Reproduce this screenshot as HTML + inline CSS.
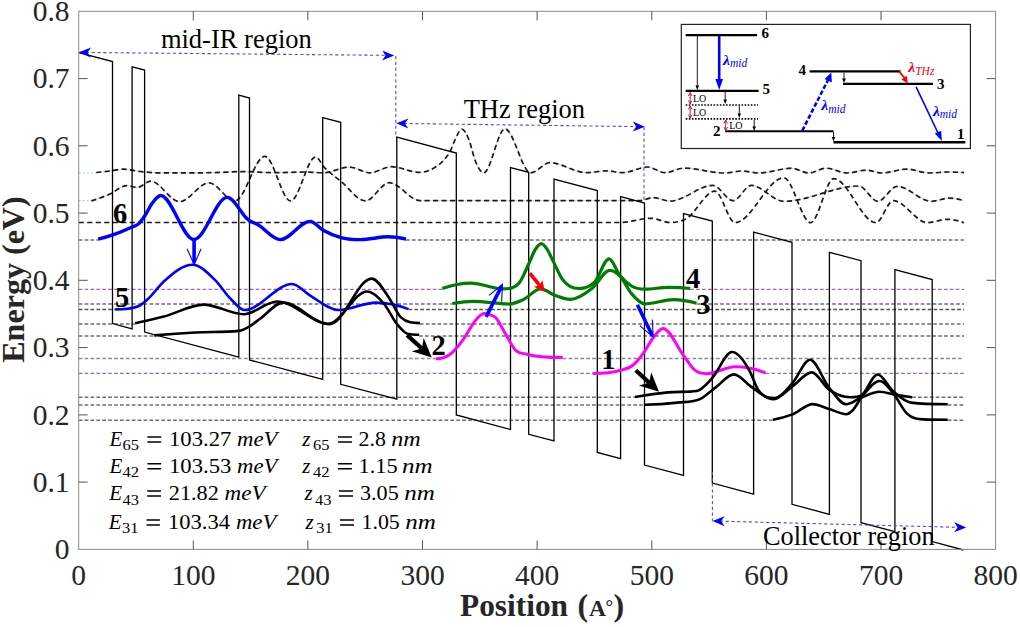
<!DOCTYPE html>
<html><head><meta charset="utf-8"><style>
html,body{margin:0;padding:0;background:#fff;width:1020px;height:627px;overflow:hidden}
svg{display:block;font-family:"Liberation Serif",serif}
</style></head><body>
<svg width="1020" height="627" viewBox="0 0 1020 627">
<rect width="1020" height="627" fill="#fff"/>
<line x1="78.7" y1="173.0" x2="96.2" y2="173.0" stroke="#a8d8f0" stroke-width="1.2" stroke-dasharray="2 2"/>
<line x1="78.7" y1="200.7" x2="91.4" y2="200.7" stroke="#f0b8c8" stroke-width="1.2" stroke-dasharray="2 2"/>
<line x1="78.7" y1="240.0" x2="98.1" y2="240.0" stroke="#6e6e6e" stroke-width="1.5" stroke-dasharray="3.7 2.2"/>
<line x1="406.0" y1="240.0" x2="964" y2="240.0" stroke="#6e6e6e" stroke-width="1.5" stroke-dasharray="3.7 2.2"/>
<line x1="78.7" y1="289.4" x2="442.2" y2="289.4" stroke="#a064c8" stroke-width="1.3" stroke-dasharray="3.7 2.2"/>
<line x1="690.2" y1="289.4" x2="964" y2="289.4" stroke="#a064c8" stroke-width="1.3" stroke-dasharray="3.7 2.2"/>
<line x1="78.7" y1="303.9" x2="452.3" y2="303.9" stroke="#6e6e6e" stroke-width="1.5" stroke-dasharray="3.7 2.2"/>
<line x1="696.5" y1="303.9" x2="964" y2="303.9" stroke="#6e6e6e" stroke-width="1.5" stroke-dasharray="3.7 2.2"/>
<line x1="78.7" y1="309.5" x2="115.2" y2="309.5" stroke="#555" stroke-width="1.5" stroke-dasharray="3.7 2.2"/>
<line x1="408.5" y1="309.5" x2="964" y2="309.5" stroke="#555" stroke-width="1.5" stroke-dasharray="3.7 2.2"/>
<line x1="78.7" y1="323.9" x2="135.1" y2="323.9" stroke="#6e6e6e" stroke-width="1.5" stroke-dasharray="3.7 2.2"/>
<line x1="419.9" y1="323.9" x2="964" y2="323.9" stroke="#6e6e6e" stroke-width="1.5" stroke-dasharray="3.7 2.2"/>
<line x1="78.7" y1="336.1" x2="154.2" y2="336.1" stroke="#6e6e6e" stroke-width="1.5" stroke-dasharray="3.7 2.2"/>
<line x1="419.1" y1="336.1" x2="964" y2="336.1" stroke="#6e6e6e" stroke-width="1.5" stroke-dasharray="3.7 2.2"/>
<line x1="78.7" y1="358.6" x2="435.8" y2="358.6" stroke="#8c8c8c" stroke-width="1.5" stroke-dasharray="3.7 2.2"/>
<line x1="562.7" y1="358.6" x2="964" y2="358.6" stroke="#8c8c8c" stroke-width="1.5" stroke-dasharray="3.7 2.2"/>
<line x1="78.7" y1="373.4" x2="592.8" y2="373.4" stroke="#a064c8" stroke-width="1.3" stroke-dasharray="3.7 2.2"/>
<line x1="765.5" y1="373.4" x2="964" y2="373.4" stroke="#a064c8" stroke-width="1.3" stroke-dasharray="3.7 2.2"/>
<line x1="78.7" y1="397.2" x2="634.9" y2="397.2" stroke="#6e6e6e" stroke-width="1.5" stroke-dasharray="3.7 2.2"/>
<line x1="912.1" y1="397.2" x2="964" y2="397.2" stroke="#6e6e6e" stroke-width="1.5" stroke-dasharray="3.7 2.2"/>
<line x1="78.7" y1="405.0" x2="644.9" y2="405.0" stroke="#6e6e6e" stroke-width="1.5" stroke-dasharray="3.7 2.2"/>
<line x1="947.7" y1="405.0" x2="964" y2="405.0" stroke="#6e6e6e" stroke-width="1.5" stroke-dasharray="3.7 2.2"/>
<line x1="78.7" y1="420.2" x2="772.9" y2="420.2" stroke="#6e6e6e" stroke-width="1.5" stroke-dasharray="3.7 2.2"/>
<line x1="947.7" y1="420.2" x2="964" y2="420.2" stroke="#6e6e6e" stroke-width="1.5" stroke-dasharray="3.7 2.2"/>
<path d="M96.2,172.5 C100.8,172.1 105.4,171.6 110.0,171.0 C114.3,170.5 118.7,169.2 123.0,169.2 C128.7,169.2 134.3,170.9 140.0,171.5 C146.8,172.2 153.5,172.9 160.3,172.9 C177.3,172.9 194.4,172.9 211.4,172.7 C221.8,172.6 232.3,171.6 242.7,171.6 C253.2,171.6 263.6,172.7 274.1,172.7 C284.6,172.7 295.0,172.0 305.5,172.0 C311.7,172.0 317.8,172.8 324.0,172.8 C332.3,172.8 340.7,167.0 349.0,167.0 C356.0,167.0 363.1,172.8 370.1,172.8 C377.1,172.8 384.1,166.7 391.1,166.7 C400.7,166.7 410.3,172.4 419.9,172.4 C424.7,172.4 429.5,170.7 434.3,167.8 C437.5,165.9 440.6,163.9 443.8,160.2 C446.0,157.6 448.3,155.1 450.5,150.6 C452.1,147.4 453.7,142.3 455.3,139.1 C457.5,134.6 459.8,129.1 462.0,129.1 C464.2,129.1 466.5,133.8 468.7,139.1 C470.9,144.4 473.2,155.6 475.4,161.1 C478.2,167.9 481.0,172.8 483.8,172.8 C490.8,172.8 497.9,128.8 504.9,128.8 C513.5,128.8 522.1,172.8 530.7,172.8 C537.1,172.8 543.4,162.7 549.8,162.7 C562.0,162.7 574.2,172.7 586.4,172.7 C593.1,172.7 599.8,170.8 606.5,170.8 C611.9,170.8 617.3,172.7 622.7,172.7 C631.0,172.7 639.3,167.0 647.6,167.0 C653.4,167.0 659.1,172.7 664.9,172.7 C671.3,172.7 677.6,168.1 684.0,168.1 C697.5,168.1 711.0,173.0 724.5,173.0 C730.2,173.0 736.0,171.0 741.7,171.0 C747.4,171.0 753.2,173.0 758.9,173.0 C769.8,173.0 780.6,168.2 791.5,168.2 C797.2,168.2 803.0,173.0 808.7,173.0 C814.6,173.0 820.4,168.2 826.3,168.2 C833.3,168.2 840.2,173.0 847.2,173.0 C853.6,173.0 860.0,170.1 866.4,170.1 C871.5,170.1 876.6,173.0 881.7,173.0 C890.0,173.0 898.3,169.1 906.6,169.1 C914.2,169.1 921.9,173.0 929.5,173.0 C935.9,173.0 942.3,172.0 948.7,172.0 C953.8,172.0 958.9,172.2 964.0,172.6" fill="none" stroke="#b8e0f4" stroke-width="1"/>
<path d="M91.4,200.9 C97.6,199.0 103.8,196.7 110.0,194.0 C115.6,191.5 121.2,185.6 126.8,185.6 C130.3,185.6 133.8,187.5 137.3,187.5 C141.8,187.5 146.2,181.2 150.7,181.2 C160.3,181.2 169.9,201.6 179.5,201.6 C189.3,201.6 199.2,182.9 209.0,182.9 C217.6,182.9 226.3,201.0 234.9,201.0 C244.9,201.0 254.8,156.3 264.8,156.3 C273.4,156.3 282.0,201.0 290.6,201.0 C298.9,201.0 307.3,157.0 315.6,157.0 C318.5,157.0 321.4,164.2 324.3,167.3 C330.0,173.4 335.7,177.1 341.4,181.8 C349.4,188.4 357.3,200.9 365.3,200.9 C373.3,200.9 381.2,182.7 389.2,182.7 C399.5,182.7 409.7,200.6 420.0,200.6 C493.3,200.6 566.7,200.6 640.0,200.6 C644.3,200.6 648.7,197.6 653.0,197.6 C658.7,197.6 664.5,201.1 670.2,201.1 C684.5,201.1 698.7,185.4 713.0,185.4 C719.7,185.4 726.4,200.7 733.1,200.7 C739.2,200.7 745.2,185.4 751.3,185.4 C762.1,185.4 773.0,201.3 783.8,201.3 C808.8,201.3 833.7,186.0 858.7,186.0 C865.1,186.0 871.5,201.3 877.9,201.3 C884.3,201.3 890.6,186.4 897.0,186.4 C908.5,186.4 920.0,201.3 931.5,201.3 C937.2,201.3 943.0,198.2 948.7,198.2 C953.8,198.2 958.9,199.0 964.0,200.7" fill="none" stroke="#f4c8d4" stroke-width="1"/>
<path d="M96.2,172.5 C100.8,172.1 105.4,171.6 110.0,171.0 C114.3,170.5 118.7,169.2 123.0,169.2 C128.7,169.2 134.3,170.9 140.0,171.5 C146.8,172.2 153.5,172.9 160.3,172.9 C177.3,172.9 194.4,172.9 211.4,172.7 C221.8,172.6 232.3,171.6 242.7,171.6 C253.2,171.6 263.6,172.7 274.1,172.7 C284.6,172.7 295.0,172.0 305.5,172.0 C311.7,172.0 317.8,172.8 324.0,172.8 C332.3,172.8 340.7,167.0 349.0,167.0 C356.0,167.0 363.1,172.8 370.1,172.8 C377.1,172.8 384.1,166.7 391.1,166.7 C400.7,166.7 410.3,172.4 419.9,172.4 C424.7,172.4 429.5,170.7 434.3,167.8 C437.5,165.9 440.6,163.9 443.8,160.2 C446.0,157.6 448.3,155.1 450.5,150.6 C452.1,147.4 453.7,142.3 455.3,139.1 C457.5,134.6 459.8,129.1 462.0,129.1 C464.2,129.1 466.5,133.8 468.7,139.1 C470.9,144.4 473.2,155.6 475.4,161.1 C478.2,167.9 481.0,172.8 483.8,172.8 C490.8,172.8 497.9,128.8 504.9,128.8 C513.5,128.8 522.1,172.8 530.7,172.8 C537.1,172.8 543.4,162.7 549.8,162.7 C562.0,162.7 574.2,172.7 586.4,172.7 C593.1,172.7 599.8,170.8 606.5,170.8 C611.9,170.8 617.3,172.7 622.7,172.7 C631.0,172.7 639.3,167.0 647.6,167.0 C653.4,167.0 659.1,172.7 664.9,172.7 C671.3,172.7 677.6,168.1 684.0,168.1 C697.5,168.1 711.0,173.0 724.5,173.0 C730.2,173.0 736.0,171.0 741.7,171.0 C747.4,171.0 753.2,173.0 758.9,173.0 C769.8,173.0 780.6,168.2 791.5,168.2 C797.2,168.2 803.0,173.0 808.7,173.0 C814.6,173.0 820.4,168.2 826.3,168.2 C833.3,168.2 840.2,173.0 847.2,173.0 C853.6,173.0 860.0,170.1 866.4,170.1 C871.5,170.1 876.6,173.0 881.7,173.0 C890.0,173.0 898.3,169.1 906.6,169.1 C914.2,169.1 921.9,173.0 929.5,173.0 C935.9,173.0 942.3,172.0 948.7,172.0 C953.8,172.0 958.9,172.2 964.0,172.6" fill="none" stroke="#1a1a1a" stroke-width="1.7" stroke-dasharray="5.2 3.3"/>
<path d="M91.4,200.9 C97.6,199.0 103.8,196.7 110.0,194.0 C115.6,191.5 121.2,185.6 126.8,185.6 C130.3,185.6 133.8,187.5 137.3,187.5 C141.8,187.5 146.2,181.2 150.7,181.2 C160.3,181.2 169.9,201.6 179.5,201.6 C189.3,201.6 199.2,182.9 209.0,182.9 C217.6,182.9 226.3,201.0 234.9,201.0 C244.9,201.0 254.8,156.3 264.8,156.3 C273.4,156.3 282.0,201.0 290.6,201.0 C298.9,201.0 307.3,157.0 315.6,157.0 C318.5,157.0 321.4,164.2 324.3,167.3 C330.0,173.4 335.7,177.1 341.4,181.8 C349.4,188.4 357.3,200.9 365.3,200.9 C373.3,200.9 381.2,182.7 389.2,182.7 C399.5,182.7 409.7,200.6 420.0,200.6 C493.3,200.6 566.7,200.6 640.0,200.6 C644.3,200.6 648.7,197.6 653.0,197.6 C658.7,197.6 664.5,201.1 670.2,201.1 C684.5,201.1 698.7,185.4 713.0,185.4 C719.7,185.4 726.4,200.7 733.1,200.7 C739.2,200.7 745.2,185.4 751.3,185.4 C762.1,185.4 773.0,201.3 783.8,201.3 C808.8,201.3 833.7,186.0 858.7,186.0 C865.1,186.0 871.5,201.3 877.9,201.3 C884.3,201.3 890.6,186.4 897.0,186.4 C908.5,186.4 920.0,201.3 931.5,201.3 C937.2,201.3 943.0,198.2 948.7,198.2 C953.8,198.2 958.9,199.0 964.0,200.7" fill="none" stroke="#1a1a1a" stroke-width="1.7" stroke-dasharray="5.2 3.3"/>
<path d="M78.7,222.5 C259.1,222.5 439.6,222.5 620.0,222.5 C630.3,222.5 640.7,218.3 651.0,218.3 C657.4,218.3 663.8,222.5 670.2,222.5 C675.3,222.5 680.4,221.6 685.5,219.2 C695.3,214.6 705.1,191.2 714.9,191.2 C721.6,191.2 728.3,222.7 735.0,222.7 C751.3,222.7 767.5,177.8 783.8,177.8 C792.7,177.8 801.7,222.7 810.6,222.7 C818.3,222.7 826.0,178.7 833.7,178.7 C847.8,178.7 861.8,222.7 875.9,222.7 C881.7,222.7 887.4,200.7 893.2,200.7 C904.7,200.7 916.1,222.7 927.6,222.7 C934.0,222.7 940.4,219.3 946.8,219.3 C952.5,219.3 958.3,220.6 964.0,222.7" fill="none" stroke="#1a1a1a" stroke-width="1.7" stroke-dasharray="5.2 3.3"/>
<path d="M78.7,52.6 L112.5,61.6 L112.5,323.6 L132.1,328.8 L132.1,66.8 L144.6,70.1 L144.6,332.1 L238.8,357.2 L238.8,95.2 L249.5,98.0 L249.5,360.0 L322.7,379.5 L322.7,117.5 L340.7,122.3 L340.7,384.3 L396.8,399.2 L396.8,137.2 L456.3,153.0 L456.3,415.0 L510.5,429.5 L510.5,167.5 L528.7,172.3 L528.7,434.3 L554.0,441.0 L554.0,179.0 L597.3,190.5 L597.3,452.5 L620.6,458.7 L620.6,196.7 L644.5,203.1 L644.5,465.1 L683.5,475.5 L683.5,213.5 L712.3,221.1 L712.3,483.1 L753.6,494.1 L753.6,232.1 L792.0,242.3 L792.0,504.3 L829.4,514.3 L829.4,252.3 L861.0,260.7 L861.0,522.7 L894.9,531.7 L894.9,269.7 L932.2,279.6 L932.2,541.6 L963.5,550.0" fill="none" stroke="#000" stroke-width="1.3" stroke-linejoin="miter"/>
<path d="M98.1,239.2 C103.7,237.9 109.4,236.2 115.0,234.2 C120.5,232.2 126.1,229.8 131.6,227.3 C133.7,226.3 135.9,226.1 138.0,224.3 C140.3,222.3 142.7,219.0 145.0,215.5 C147.3,212.0 149.7,206.7 152.0,203.5 C154.9,199.6 157.8,195.5 160.7,195.5 C171.7,195.5 182.8,239.5 193.8,239.5 C205.0,239.5 216.1,197.4 227.3,197.4 C234.4,197.4 241.5,215.4 248.6,220.1 C251.7,222.2 254.8,223.0 257.9,224.7 C265.4,228.8 272.8,239.6 280.3,239.6 C290.2,239.6 300.2,221.4 310.1,221.4 C314.4,221.4 318.8,227.8 323.1,230.3 C329.3,233.8 335.6,236.3 341.8,237.8 C348.0,239.3 354.2,239.6 360.4,239.6 C369.7,239.6 379.0,236.8 388.3,236.8 C394.2,236.8 400.1,237.9 406.0,239.2" fill="none" stroke="#0000ff" stroke-width="3.4"/>
<path d="M115.2,309.4 C122.9,309.4 130.6,309.4 138.3,306.2 C141.5,304.9 144.7,301.8 147.9,299.0 C153.2,294.3 158.5,286.4 163.8,281.5 C173.4,272.7 182.9,264.7 192.5,264.7 C200.0,264.7 207.4,272.6 214.9,279.9 C220.2,285.1 225.5,293.8 230.8,299.0 C235.4,303.5 239.9,310.0 244.5,310.0 C260.3,310.0 276.2,284.0 292.0,284.0 C298.2,284.0 304.4,292.3 310.6,295.9 C320.0,301.4 329.4,310.0 338.8,310.0 C351.2,310.0 363.5,302.6 375.9,302.6 C386.8,302.6 397.6,304.9 408.5,309.1" fill="none" stroke="#0000ff" stroke-width="2.6"/>
<path d="M135.1,323.3 C144.7,321.3 154.2,319.1 163.8,316.6 C177.1,313.1 190.4,304.6 203.7,304.6 C217.0,304.6 230.3,314.2 243.6,314.2 C254.8,314.2 265.9,301.5 277.1,301.5 C294.7,301.5 312.4,324.1 330.0,324.1 C343.8,324.1 357.7,278.6 371.5,278.6 C377.7,278.6 383.8,290.3 390.0,299.4 C393.5,304.6 397.1,313.8 400.6,317.1 C407.0,323.1 413.5,323.1 419.9,323.1" fill="none" stroke="#000" stroke-width="2.6"/>
<path d="M154.2,335.4 C168.0,334.2 181.9,333.2 195.7,332.5 C210.1,331.7 224.4,332.5 238.8,330.9 C242.5,330.5 246.3,328.3 250.0,326.1 C253.3,324.1 256.7,321.2 260.0,318.8 C267.7,313.2 275.5,302.6 283.2,302.6 C298.2,302.6 313.2,323.8 328.2,323.8 C341.2,323.8 354.1,291.5 367.1,291.5 C373.0,291.5 378.8,297.4 384.7,304.7 C388.8,309.8 392.9,319.1 397.0,324.1 C400.5,328.4 404.1,332.9 407.6,333.8 C411.4,334.8 415.3,334.8 419.1,334.8" fill="none" stroke="#000" stroke-width="2.6"/>
<path d="M435.8,358.7 C440.6,358.7 445.4,357.8 450.2,354.2 C454.4,351.0 458.7,345.7 462.9,339.9 C466.6,334.8 470.4,327.2 474.1,322.3 C475.6,320.4 477.0,318.4 478.5,317.0 C480.5,315.1 482.5,313.6 484.5,313.6 C486.7,313.6 488.8,314.4 491.0,315.2 C492.3,315.7 493.6,315.9 494.9,316.9 C498.1,319.3 501.2,326.8 504.4,331.9 C508.1,337.9 511.9,346.5 515.6,350.2 C519.3,353.9 523.1,353.2 526.8,354.2 C538.8,357.5 550.7,357.5 562.7,357.5" fill="none" stroke="#ff00ff" stroke-width="3"/>
<path d="M592.8,373.4 C601.8,373.4 610.9,373.2 619.9,370.5 C624.1,369.2 628.4,368.9 632.6,365.5 C636.3,362.5 640.1,357.7 643.8,352.6 C647.0,348.2 650.2,341.5 653.4,337.5 C656.6,333.5 659.7,328.4 662.9,328.4 C669.8,328.4 676.8,346.8 683.7,355.8 C687.4,360.6 691.2,367.2 694.9,370.2 C698.7,373.2 702.4,373.7 706.2,373.7 C715.8,373.7 725.3,366.8 734.9,366.8 C745.1,366.8 755.3,368.7 765.5,373.1" fill="none" stroke="#ff00ff" stroke-width="3"/>
<path d="M442.2,288.6 C451.8,285.1 461.3,283.1 470.9,283.1 C481.7,283.1 492.4,288.9 503.2,288.9 C508.5,288.9 513.7,288.9 519.0,283.1 C522.4,279.4 525.7,270.1 529.1,263.0 C531.2,258.6 533.2,252.7 535.3,249.5 C537.3,246.4 539.3,243.6 541.3,243.6 C543.3,243.6 545.3,246.4 547.3,249.5 C548.9,251.9 550.4,255.6 552.0,258.7 C555.4,265.3 558.7,273.9 562.1,278.8 C567.8,287.1 573.4,288.5 579.1,288.5 C584.2,288.5 589.4,287.3 594.5,282.1 C599.4,277.1 604.2,258.9 609.1,258.9 C612.7,258.9 616.4,271.0 620.0,275.5 C623.8,280.2 627.7,283.7 631.5,286.0 C635.9,288.7 640.4,289.2 644.8,289.2 C652.8,289.2 660.7,287.3 668.7,287.3 C675.9,287.3 683.0,287.6 690.2,288.5" fill="none" stroke="#007d00" stroke-width="3.2"/>
<path d="M452.3,303.5 C459.2,302.4 466.2,301.4 473.1,301.4 C485.1,301.4 497.0,304.0 509.0,304.0 C513.8,304.0 518.5,301.7 523.3,299.6 C529.1,297.0 534.8,288.9 540.6,288.9 C545.4,288.9 550.1,293.6 554.9,295.3 C560.0,297.1 565.1,299.4 570.2,299.4 C577.4,299.4 584.7,294.2 591.9,288.5 C597.9,283.8 603.8,270.4 609.8,270.4 C613.2,270.4 616.6,272.6 620.0,276.0 C623.8,279.9 627.7,289.1 631.5,293.6 C635.9,298.8 640.4,303.8 644.8,303.8 C654.4,303.8 663.9,299.7 673.5,299.7 C681.2,299.7 688.8,301.1 696.5,303.3" fill="none" stroke="#007d00" stroke-width="3.2"/>
<path d="M634.9,397.0 C645.9,394.9 656.9,393.4 667.9,392.4 C677.5,391.5 687.0,392.4 696.6,391.0 C701.7,390.3 706.8,383.8 711.9,378.5 C718.6,371.6 725.3,352.0 732.0,352.0 C738.1,352.0 744.1,360.5 750.2,372.1 C752.8,377.0 755.3,385.5 757.9,389.4 C763.6,398.0 769.3,398.0 775.0,398.0 C780.8,398.0 786.6,389.4 792.4,383.1 C798.3,376.7 804.1,359.8 810.0,359.8 C816.3,359.8 822.7,379.9 829.0,387.5 C834.8,394.4 840.5,404.3 846.3,404.3 C851.2,404.3 856.1,399.7 861.0,397.8 C867.2,395.4 873.5,391.8 879.7,391.8 C884.4,391.8 889.0,393.6 893.7,394.4 C899.8,395.5 906.0,396.4 912.1,397.2" fill="none" stroke="#000" stroke-width="2.6"/>
<path d="M644.9,404.7 C655.7,404.6 666.6,403.9 677.4,402.6 C685.1,401.7 692.7,402.6 700.4,398.8 C705.5,396.3 710.6,391.1 715.7,387.4 C721.8,383.0 727.8,374.4 733.9,374.4 C740.0,374.4 746.0,383.5 752.1,387.4 C759.1,391.9 766.2,399.3 773.2,399.3 C779.6,399.3 786.0,390.9 792.4,386.4 C798.9,381.9 805.3,372.4 811.8,372.4 C817.5,372.4 823.3,385.5 829.0,389.6 C836.2,394.7 843.4,397.2 850.6,397.2 C854.1,397.2 857.5,397.2 861.0,395.7 C866.5,393.3 872.1,374.5 877.6,374.5 C883.0,374.5 888.3,387.2 893.7,391.8 C899.5,396.7 905.2,401.8 911.0,402.6 C923.2,404.3 935.5,404.3 947.7,404.3" fill="none" stroke="#000" stroke-width="2.6"/>
<path d="M772.9,419.8 C779.4,418.7 785.9,416.9 792.4,414.4 C799.2,411.8 806.0,404.1 812.8,404.1 C818.2,404.1 823.6,407.4 829.0,409.0 C834.8,410.7 840.5,414.2 846.3,414.2 C848.2,414.2 850.1,412.7 852.0,411.0 C855.0,408.3 858.0,402.0 861.0,398.2 C867.2,390.4 873.5,381.0 879.7,381.0 C884.4,381.0 889.0,388.2 893.7,393.9 C898.0,399.2 902.4,409.0 906.7,413.3 C912.4,419.0 918.2,419.1 923.9,419.4 C931.8,419.8 939.8,419.8 947.7,419.8" fill="none" stroke="#000" stroke-width="2.6"/>
<line x1="80.0" y1="52.4" x2="393.0" y2="55.4" stroke="#4848ff" stroke-width="1.1" stroke-dasharray="3.2 2.6"/>
<polygon points="78.9,52.3 91.0,47.4 87.5,52.4 90.8,57.4" fill="#0000ff"/>
<polygon points="394.2,55.5 382.1,60.4 385.6,55.4 382.3,50.4" fill="#0000ff"/>
<line x1="395.8" y1="56.0" x2="395.8" y2="137.0" stroke="#4848ff" stroke-width="1.1" stroke-dasharray="3.2 2.6"/>
<line x1="398.0" y1="123.4" x2="643.0" y2="126.7" stroke="#4848ff" stroke-width="1.1" stroke-dasharray="3.2 2.6"/>
<polygon points="396.4,123.3 408.5,118.5 405.0,123.4 408.3,128.5" fill="#0000ff"/>
<polygon points="644.8,126.8 632.7,131.6 636.2,126.7 632.9,121.6" fill="#0000ff"/>
<line x1="644.0" y1="127.0" x2="644.0" y2="200.0" stroke="#4848ff" stroke-width="1.1" stroke-dasharray="3.2 2.6"/>
<line x1="712.4" y1="472.0" x2="712.4" y2="520.9" stroke="#4848ff" stroke-width="1.1" stroke-dasharray="3.2 2.6"/>
<line x1="714.0" y1="521.0" x2="965.0" y2="527.5" stroke="#4848ff" stroke-width="1.1" stroke-dasharray="3.2 2.6"/>
<polygon points="712.6,520.9 724.7,516.2 721.2,521.1 724.5,526.2" fill="#0000ff"/>
<polygon points="966.2,527.6 954.1,532.3 957.6,527.4 954.3,522.3" fill="#0000ff"/>
<line x1="194.1" y1="239.5" x2="194.1" y2="262.7" stroke="#0000ff" stroke-width="3.6"/><polyline points="187.1,248.7 194.1,264.7 201.1,248.7" fill="none" stroke="#0000ff" stroke-width="1.1"/>
<line x1="486.1" y1="316.9" x2="501.6" y2="286.1" stroke="#0000ff" stroke-width="3.6"/><polyline points="501.6,301.7 502.5,284.3 489.1,295.4" fill="none" stroke="#0000ff" stroke-width="1.1"/>
<line x1="637.4" y1="304.8" x2="652.2" y2="335.2" stroke="#0000ff" stroke-width="3.6"/><polyline points="639.8,325.7 653.1,337.0 652.4,319.6" fill="none" stroke="#0000ff" stroke-width="1.1"/>
<line x1="529.8" y1="273.1" x2="539.8" y2="285.6" stroke="#ff0000" stroke-width="3.6"/><polygon points="544.9,292.0 533.7,286.8 539.8,285.6 542.3,280.0" fill="#ff0000"/>
<line x1="407.1" y1="335.1" x2="421.9" y2="348.5" stroke="#000" stroke-width="4.2"/><polygon points="431.8,357.4 411.7,351.3 421.9,348.5 423.7,338.0" fill="#000"/>
<line x1="635.8" y1="370.2" x2="649.2" y2="382.7" stroke="#000" stroke-width="4.2"/><polygon points="659.0,391.7 638.9,385.4 649.2,382.7 651.2,372.2" fill="#000"/>
<rect x="78.7" y="11.3" width="916.9" height="538.1" fill="none" stroke="#8a8a8a" stroke-width="1"/>
<path d="M193.3,549.4V540.4 M193.3,11.3V20.3 M307.9,549.4V540.4 M307.9,11.3V20.3 M422.5,549.4V540.4 M422.5,11.3V20.3 M537.1,549.4V540.4 M537.1,11.3V20.3 M651.8,549.4V540.4 M651.8,11.3V20.3 M766.4,549.4V540.4 M766.4,11.3V20.3 M881.0,549.4V540.4 M881.0,11.3V20.3 M78.7,482.1H87.7 M995.6,482.1H986.6 M78.7,414.9H87.7 M995.6,414.9H986.6 M78.7,347.6H87.7 M995.6,347.6H986.6 M78.7,280.3H87.7 M995.6,280.3H986.6 M78.7,213.1H87.7 M995.6,213.1H986.6 M78.7,145.8H87.7 M995.6,145.8H986.6 M78.7,78.6H87.7 M995.6,78.6H986.6" stroke="#555" stroke-width="1" fill="none"/>
<text x="78.7" y="584.7" font-family="Liberation Serif" font-size="29.5" text-anchor="middle" fill="#262626">0</text>
<text x="193.3" y="584.7" font-family="Liberation Serif" font-size="29.5" text-anchor="middle" fill="#262626">100</text>
<text x="307.9" y="584.7" font-family="Liberation Serif" font-size="29.5" text-anchor="middle" fill="#262626">200</text>
<text x="422.5" y="584.7" font-family="Liberation Serif" font-size="29.5" text-anchor="middle" fill="#262626">300</text>
<text x="537.1" y="584.7" font-family="Liberation Serif" font-size="29.5" text-anchor="middle" fill="#262626">400</text>
<text x="651.8" y="584.7" font-family="Liberation Serif" font-size="29.5" text-anchor="middle" fill="#262626">500</text>
<text x="766.4" y="584.7" font-family="Liberation Serif" font-size="29.5" text-anchor="middle" fill="#262626">600</text>
<text x="881.0" y="584.7" font-family="Liberation Serif" font-size="29.5" text-anchor="middle" fill="#262626">700</text>
<text x="995.6" y="584.7" font-family="Liberation Serif" font-size="29.5" text-anchor="middle" fill="#262626">800</text>
<text x="69.5" y="559.2" font-family="Liberation Serif" font-size="29.5" text-anchor="end" fill="#262626">0</text>
<text x="69.5" y="491.9" font-family="Liberation Serif" font-size="29.5" text-anchor="end" fill="#262626">0.1</text>
<text x="69.5" y="424.7" font-family="Liberation Serif" font-size="29.5" text-anchor="end" fill="#262626">0.2</text>
<text x="69.5" y="357.4" font-family="Liberation Serif" font-size="29.5" text-anchor="end" fill="#262626">0.3</text>
<text x="69.5" y="290.1" font-family="Liberation Serif" font-size="29.5" text-anchor="end" fill="#262626">0.4</text>
<text x="69.5" y="222.9" font-family="Liberation Serif" font-size="29.5" text-anchor="end" fill="#262626">0.5</text>
<text x="69.5" y="155.6" font-family="Liberation Serif" font-size="29.5" text-anchor="end" fill="#262626">0.6</text>
<text x="69.5" y="88.4" font-family="Liberation Serif" font-size="29.5" text-anchor="end" fill="#262626">0.7</text>
<text x="69.5" y="21.1" font-family="Liberation Serif" font-size="29.5" text-anchor="end" fill="#262626">0.8</text>
<text y="616.3" font-family="Liberation Serif" font-weight="bold" fill="#262626"><tspan x="460" font-size="32" textLength="108" lengthAdjust="spacingAndGlyphs">Position</tspan><tspan x="577.5" font-size="32">(</tspan><tspan x="589" font-size="23.5">A</tspan><tspan x="605.5" dy="-3" font-size="19">°</tspan><tspan x="613.5" dy="3" font-size="32">)</tspan></text>
<text transform="translate(23.6,362.8) rotate(-90)" font-family="Liberation Serif" font-size="32.5" font-weight="bold" textLength="166.5" lengthAdjust="spacingAndGlyphs" fill="#262626">Energy (eV)</text>
<text x="160.9" y="47.5" font-family="Liberation Serif" font-size="26.5" fill="#000">mid-IR region</text>
<text x="463.7" y="117.7" font-family="Liberation Serif" font-size="26.5" fill="#000">THz region</text>
<text x="763" y="545.4" font-family="Liberation Serif" font-size="26.3" fill="#000">Collector region</text>
<text x="113.1" y="222.9" font-family="Liberation Serif" font-size="28.5" font-weight="bold" fill="#000">6</text>
<text x="114.9" y="306.8" font-family="Liberation Serif" font-size="28.5" font-weight="bold" fill="#000">5</text>
<text x="686.1" y="288.4" font-family="Liberation Serif" font-size="28.5" font-weight="bold" fill="#000">4</text>
<text x="696.2" y="313.7" font-family="Liberation Serif" font-size="28.5" font-weight="bold" fill="#000">3</text>
<text x="431.5" y="354.5" font-family="Liberation Serif" font-size="28.5" font-weight="bold" fill="#000">2</text>
<text x="601.2" y="369.2" font-family="Liberation Serif" font-size="28.5" font-weight="bold" fill="#000">1</text>
<text x="109.5" y="446.2" font-family="Liberation Serif" font-size="21" font-style="italic" fill="#000">E</text>
<text x="122.6" y="450.4" font-family="Liberation Serif" font-size="15.5" textLength="16.5" lengthAdjust="spacingAndGlyphs" fill="#000">65</text>
<path d="M147.4,436.9H161.2M147.4,441.9H161.2" stroke="#000" stroke-width="1.5"/>
<text x="169.0" y="446.2" font-family="Liberation Serif" font-size="21" textLength="62.3" lengthAdjust="spacingAndGlyphs" fill="#000">103.27</text>
<text x="237.0" y="446.2" font-family="Liberation Serif" font-size="21" font-style="italic" textLength="40.4" lengthAdjust="spacingAndGlyphs" fill="#000">meV</text>
<text x="302.3" y="446.2" font-family="Liberation Serif" font-size="21" font-style="italic" fill="#000">z</text>
<text x="313.0" y="450.4" font-family="Liberation Serif" font-size="15.5" textLength="16.5" lengthAdjust="spacingAndGlyphs" fill="#000">65</text>
<path d="M337.9,436.9H351.9M337.9,441.9H351.9" stroke="#000" stroke-width="1.5"/>
<text x="358.5" y="446.2" font-family="Liberation Serif" font-size="21" textLength="27.3" lengthAdjust="spacingAndGlyphs" fill="#000">2.8</text>
<text x="391.3" y="446.2" font-family="Liberation Serif" font-size="21" font-style="italic" textLength="29.5" lengthAdjust="spacingAndGlyphs" fill="#000">nm</text>
<text x="109.5" y="473.0" font-family="Liberation Serif" font-size="21" font-style="italic" fill="#000">E</text>
<text x="122.6" y="477.2" font-family="Liberation Serif" font-size="15.5" textLength="16.5" lengthAdjust="spacingAndGlyphs" fill="#000">42</text>
<path d="M147.4,463.7H161.2M147.4,468.7H161.2" stroke="#000" stroke-width="1.5"/>
<text x="169.0" y="473.0" font-family="Liberation Serif" font-size="21" textLength="62.3" lengthAdjust="spacingAndGlyphs" fill="#000">103.53</text>
<text x="237.0" y="473.0" font-family="Liberation Serif" font-size="21" font-style="italic" textLength="40.4" lengthAdjust="spacingAndGlyphs" fill="#000">meV</text>
<text x="302.3" y="473.0" font-family="Liberation Serif" font-size="21" font-style="italic" fill="#000">z</text>
<text x="313.0" y="477.2" font-family="Liberation Serif" font-size="15.5" textLength="16.5" lengthAdjust="spacingAndGlyphs" fill="#000">42</text>
<path d="M337.9,463.7H351.9M337.9,468.7H351.9" stroke="#000" stroke-width="1.5"/>
<text x="358.5" y="473.0" font-family="Liberation Serif" font-size="21" textLength="39.2" lengthAdjust="spacingAndGlyphs" fill="#000">1.15</text>
<text x="402.1" y="473.0" font-family="Liberation Serif" font-size="21" font-style="italic" textLength="30.6" lengthAdjust="spacingAndGlyphs" fill="#000">nm</text>
<text x="109.3" y="500.4" font-family="Liberation Serif" font-size="21" font-style="italic" fill="#000">E</text>
<text x="122.4" y="504.6" font-family="Liberation Serif" font-size="15.5" textLength="16.5" lengthAdjust="spacingAndGlyphs" fill="#000">43</text>
<path d="M147.2,491.1H161.0M147.2,496.1H161.0" stroke="#000" stroke-width="1.5"/>
<text x="168.8" y="500.4" font-family="Liberation Serif" font-size="21" textLength="50.0" lengthAdjust="spacingAndGlyphs" fill="#000">21.82</text>
<text x="224.5" y="500.4" font-family="Liberation Serif" font-size="21" font-style="italic" textLength="41.0" lengthAdjust="spacingAndGlyphs" fill="#000">meV</text>
<text x="304.4" y="500.4" font-family="Liberation Serif" font-size="21" font-style="italic" fill="#000">z</text>
<text x="315.1" y="504.6" font-family="Liberation Serif" font-size="15.5" textLength="16.5" lengthAdjust="spacingAndGlyphs" fill="#000">43</text>
<path d="M338.9,491.1H353.0M338.9,496.1H353.0" stroke="#000" stroke-width="1.5"/>
<text x="360.0" y="500.4" font-family="Liberation Serif" font-size="21" textLength="38.7" lengthAdjust="spacingAndGlyphs" fill="#000">3.05</text>
<text x="404.2" y="500.4" font-family="Liberation Serif" font-size="21" font-style="italic" textLength="30.6" lengthAdjust="spacingAndGlyphs" fill="#000">nm</text>
<text x="108.8" y="529.2" font-family="Liberation Serif" font-size="21" font-style="italic" fill="#000">E</text>
<text x="121.9" y="533.4" font-family="Liberation Serif" font-size="15.5" textLength="16.5" lengthAdjust="spacingAndGlyphs" fill="#000">31</text>
<path d="M146.5,519.9H159.9M146.5,524.9H159.9" stroke="#000" stroke-width="1.5"/>
<text x="168.0" y="529.2" font-family="Liberation Serif" font-size="21" textLength="61.9" lengthAdjust="spacingAndGlyphs" fill="#000">103.34</text>
<text x="236.0" y="529.2" font-family="Liberation Serif" font-size="21" font-style="italic" textLength="40.3" lengthAdjust="spacingAndGlyphs" fill="#000">meV</text>
<text x="305.5" y="529.2" font-family="Liberation Serif" font-size="21" font-style="italic" fill="#000">z</text>
<text x="316.2" y="533.4" font-family="Liberation Serif" font-size="15.5" textLength="16.5" lengthAdjust="spacingAndGlyphs" fill="#000">31</text>
<path d="M340.0,519.9H354.0M340.0,524.9H354.0" stroke="#000" stroke-width="1.5"/>
<text x="361.5" y="529.2" font-family="Liberation Serif" font-size="21" textLength="38.3" lengthAdjust="spacingAndGlyphs" fill="#000">1.05</text>
<text x="405.3" y="529.2" font-family="Liberation Serif" font-size="21" font-style="italic" textLength="30.6" lengthAdjust="spacingAndGlyphs" fill="#000">nm</text>
<rect x="681.3" y="24.4" width="289.1" height="124.1" fill="#fff" stroke="#222" stroke-width="1.2"/>
<line x1="685.7" y1="35.1" x2="757.1" y2="35.1" stroke="#000" stroke-width="2.2"/>
<line x1="685.7" y1="90.9" x2="758.7" y2="90.9" stroke="#000" stroke-width="2.2"/>
<line x1="685.7" y1="105" x2="758" y2="105" stroke="#000" stroke-width="1.7" stroke-dasharray="1.6 1.5"/>
<line x1="685.7" y1="118.8" x2="758" y2="118.8" stroke="#000" stroke-width="1.7" stroke-dasharray="1.6 1.5"/>
<line x1="725.2" y1="131.3" x2="833.5" y2="131.3" stroke="#000" stroke-width="2.1"/>
<line x1="833.5" y1="142.3" x2="965.3" y2="142.3" stroke="#000" stroke-width="2.6"/>
<line x1="809.6" y1="71.3" x2="900.5" y2="71.3" stroke="#000" stroke-width="2.2"/>
<line x1="843.1" y1="83.8" x2="932.9" y2="83.8" stroke="#000" stroke-width="2.2"/>
<line x1="697.3" y1="36.0" x2="697.3" y2="88.0" stroke="#000" stroke-width="0.9"/><polygon points="695.5,85.5 697.3,90.0 699.1,85.5" fill="#000"/>
<line x1="725.2" y1="92.0" x2="725.2" y2="102.0" stroke="#000" stroke-width="0.9"/><polygon points="723.4,99.5 725.2,104.0 727.0,99.5" fill="#000"/>
<line x1="739.3" y1="106.0" x2="739.3" y2="116.0" stroke="#000" stroke-width="0.9"/><polygon points="737.5,113.5 739.3,118.0 741.1,113.5" fill="#000"/>
<line x1="754.2" y1="120.0" x2="754.2" y2="129.0" stroke="#000" stroke-width="0.9"/><polygon points="752.4,126.5 754.2,131.0 756.0,126.5" fill="#000"/>
<line x1="844.0" y1="72.5" x2="844.0" y2="81.0" stroke="#000" stroke-width="0.9"/><polygon points="842.2,78.5 844.0,83.0 845.8,78.5" fill="#000"/>
<line x1="833.5" y1="132.0" x2="833.5" y2="139.5" stroke="#000" stroke-width="0.9"/><polygon points="831.7,137.0 833.5,141.5 835.3,137.0" fill="#000"/>
<line x1="690.2" y1="92.5" x2="690.2" y2="104.0" stroke="#b01030" stroke-width="0.9"/><polyline points="688.4,96.0 690.2,92.5 692.0,96.0" fill="none" stroke="#b01030" stroke-width="0.9"/><polyline points="688.4,100.5 690.2,104.0 692.0,100.5" fill="none" stroke="#b01030" stroke-width="0.9"/>
<line x1="690.2" y1="106.0" x2="690.2" y2="118.0" stroke="#b01030" stroke-width="0.9"/><polyline points="688.4,109.5 690.2,106.0 692.0,109.5" fill="none" stroke="#b01030" stroke-width="0.9"/><polyline points="688.4,114.5 690.2,118.0 692.0,114.5" fill="none" stroke="#b01030" stroke-width="0.9"/>
<line x1="725.7" y1="120.0" x2="725.7" y2="130.5" stroke="#b01030" stroke-width="0.9"/><polyline points="723.9,123.5 725.7,120.0 727.5,123.5" fill="none" stroke="#b01030" stroke-width="0.9"/><polyline points="723.9,127.0 725.7,130.5 727.5,127.0" fill="none" stroke="#b01030" stroke-width="0.9"/>
<text x="692.9" y="101.8" font-family="Liberation Serif" font-size="10" fill="#000">LO</text>
<text x="692.9" y="115.5" font-family="Liberation Serif" font-size="10" fill="#000">LO</text>
<text x="729.2" y="129.0" font-family="Liberation Serif" font-size="10" fill="#000">LO</text>
<line x1="719.2" y1="36" x2="719.2" y2="80" stroke="#0000ff" stroke-width="2.6"/><polygon points="719.2,90 715.4,79 723,79" fill="#0000ff"/>
<line x1="802.3" y1="130.6" x2="828.5" y2="79" stroke="#0000ff" stroke-width="2.6" stroke-dasharray="4.5 2.2"/><polygon points="831.3,72.6 831.8,82.5 824.6,79" fill="#0000ff"/>
<line x1="916.1" y1="86.9" x2="938.5" y2="134" stroke="#0000ff" stroke-width="1.6"/><polygon points="941.8,141.1 934.8,133.5 941.2,130.8" fill="#0000ff"/>
<line x1="899" y1="71.3" x2="905" y2="78.5" stroke="#ff0000" stroke-width="1.8"/><polygon points="907.9,83.8 901.5,79.5 906.8,75.8" fill="#ff0000"/>
<text x="761.6" y="37.8" font-family="Liberation Serif" font-size="15" font-weight="bold" fill="#000">6</text>
<text x="762.5" y="94.2" font-family="Liberation Serif" font-size="15" font-weight="bold" fill="#000">5</text>
<text x="798.5" y="74.8" font-family="Liberation Serif" font-size="15" font-weight="bold" fill="#000">4</text>
<text x="936.9" y="89.1" font-family="Liberation Serif" font-size="15" font-weight="bold" fill="#000">3</text>
<text x="713.0" y="135.5" font-family="Liberation Serif" font-size="15" font-weight="bold" fill="#000">2</text>
<text x="957.0" y="138.9" font-family="Liberation Serif" font-size="15" font-weight="bold" fill="#000">1</text>
<text x="723" y="64.5" font-family="Liberation Serif" font-size="15.5" font-style="italic" fill="#0000ff"><tspan font-weight="bold">λ</tspan><tspan font-size="11.5" dy="2.5">mid</tspan></text>
<text x="821.3" y="110" font-family="Liberation Serif" font-size="15.5" font-style="italic" fill="#0000ff"><tspan font-weight="bold">λ</tspan><tspan font-size="11.5" dy="2.5">mid</tspan></text>
<text x="932.9" y="115.5" font-family="Liberation Serif" font-size="15.5" font-style="italic" fill="#0000ff"><tspan font-weight="bold">λ</tspan><tspan font-size="11.5" dy="2.5">mid</tspan></text>
<text x="908.3" y="72" font-family="Liberation Serif" font-size="15.5" font-style="italic" fill="#ff0000"><tspan font-weight="bold">λ</tspan><tspan font-size="11.5" dy="2.5">THz</tspan></text>
</svg>
</body></html>
